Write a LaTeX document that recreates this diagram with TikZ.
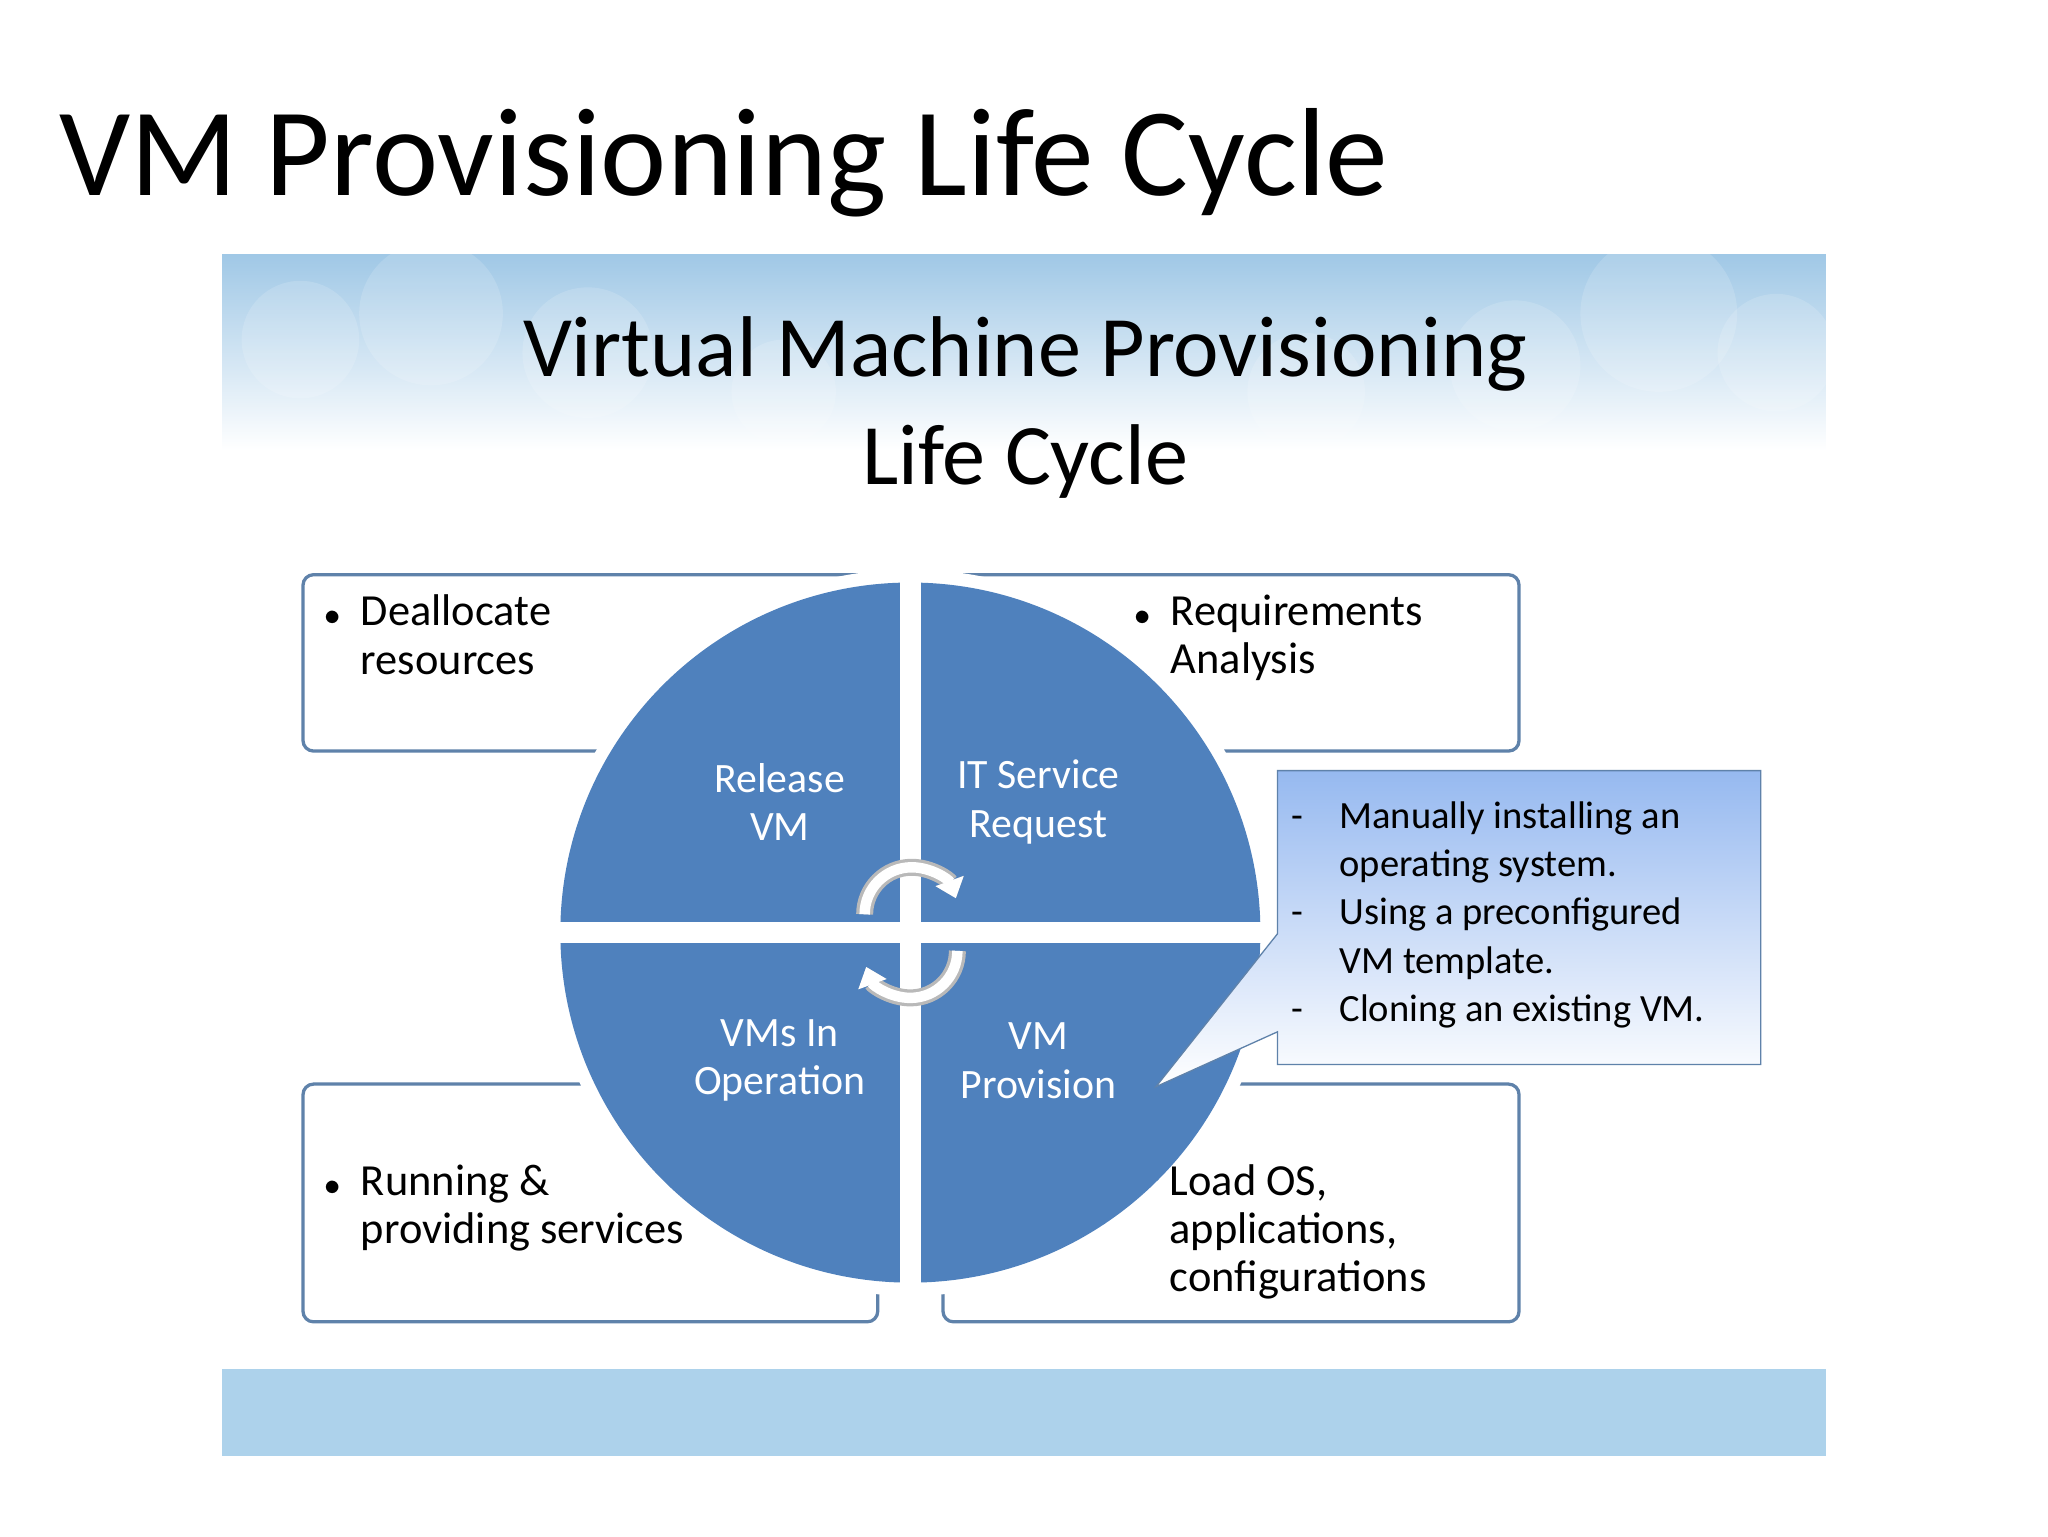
\documentclass[tikz,border=0pt]{standalone}
\usepackage{fontspec}
\setmainfont{Carlito}
\usetikzlibrary{arrows.meta,shapes.callouts}
\definecolor{qblue}{RGB}{79,129,189}
\definecolor{bord}{RGB}{95,130,170}
\definecolor{sky}{RGB}{160,200,230}
\definecolor{barblue}{RGB}{173,210,235}
\definecolor{callb}{RGB}{150,185,240}
\tikzset{
  infobox/.style={draw=bord,line width=2.5pt,rounded corners=8pt,fill=white},
  qtext/.style={text=white,font=\fontsize{32}{37}\selectfont,align=center},
  btext/.style={font=\fontsize{34}{37}\selectfont,align=left,anchor=north west},
  ctext/.style={font=\fontsize{29.5}{37}\selectfont,align=left,anchor=north west}
}
\begin{document}
\begin{tikzpicture}[x=1pt,y=-1pt]
\useasboundingbox (0,0) rectangle (1568,1176);
\fill[white] (0,0) rectangle (1568,1176);
% title
\node[anchor=base west,font=\fontsize{96}{110}\selectfont,inner sep=0] (title) at (45,150) {VM Provisioning Life Cycle};
% sky band
\shade[top color=sky,bottom color=white] (170,195) rectangle (1398,345);
\foreach \cx/\cy/\r in {230/260/45,330/240/55,450/270/50,1270/240/60,1360/270/45,1160/280/50,600/300/40,1000/300/45}
  \fill[white,opacity=0.15] (\cx,\cy) circle (\r);
\fill[barblue] (170,1048) rectangle (1398,1115);
\node[font=\fontsize{66}{82}\selectfont,align=center] (sub) at (785,312) {Virtual Machine Provisioning\\Life Cycle};
% boxes
\draw[infobox] (232,440) rectangle (672,575);
\draw[infobox] (722,440) rectangle (1163,575);
\draw[infobox] (232,830) rectangle (672,1012);
\draw[infobox] (722,830) rectangle (1163,1012);
% circle
\fill[white] (697,714) circle (278);
\fill[qblue] (697,714) circle (268);
\fill[white] (689,430) rectangle (705,1000);
\fill[white] (420,706) rectangle (975,722);
% box texts
\node[btext] (t1) at (245,452) {$\bullet$\ \ Deallocate\\\phantom{$\bullet$\ \ }resources};
\node[btext] (t2) at (865,452) {$\bullet$\ \ Requirements\\\phantom{$\bullet$\ \ }Analysis};
\node[btext] (t3) at (245,888) {$\bullet$\ \ Running \&\\\phantom{$\bullet$\ \ }providing services};
\node[btext] (t4) at (892,888) {Load OS,\\applications,\\configurations};
% quadrant texts
\node[qtext] (q1) at (597,614) {Release\\VM};
\node[qtext] (q2) at (795,614) {IT Service\\Request};
\node[qtext] (q3) at (597,812) {VMs In\\Operation};
\node[qtext] (q4) at (795,812) {VM\\Provision};
% cycle arrows
\foreach \w/\c in {13/gray!55,8/white}{
  \draw[line width=\w pt,\c,-{Triangle[length=14pt,width=22pt]}] (662,700) arc[start angle=180,end angle=340,radius=36];
  \draw[line width=\w pt,\c,-{Triangle[length=14pt,width=22pt]}] (733,728) arc[start angle=0,end angle=160,radius=36];
}
% callout
\coordinate (tip) at (885,832);
\shade[top color=callb,bottom color=white,draw=bord,line width=1pt]
  (978,590) -- (1348,590) -- (1348,815) -- (978,815) -- (978,790) -- (tip) -- (978,715) -- cycle;
\node[ctext] (c1) at (985,610) {-\hspace{28pt}Manually installing an\\\phantom{-}\hspace{28pt}operating system.\\-\hspace{28pt}Using a preconfigured\\\phantom{-}\hspace{28pt}VM template.\\-\hspace{28pt}Cloning an existing VM.};
\end{tikzpicture}
\end{document}
